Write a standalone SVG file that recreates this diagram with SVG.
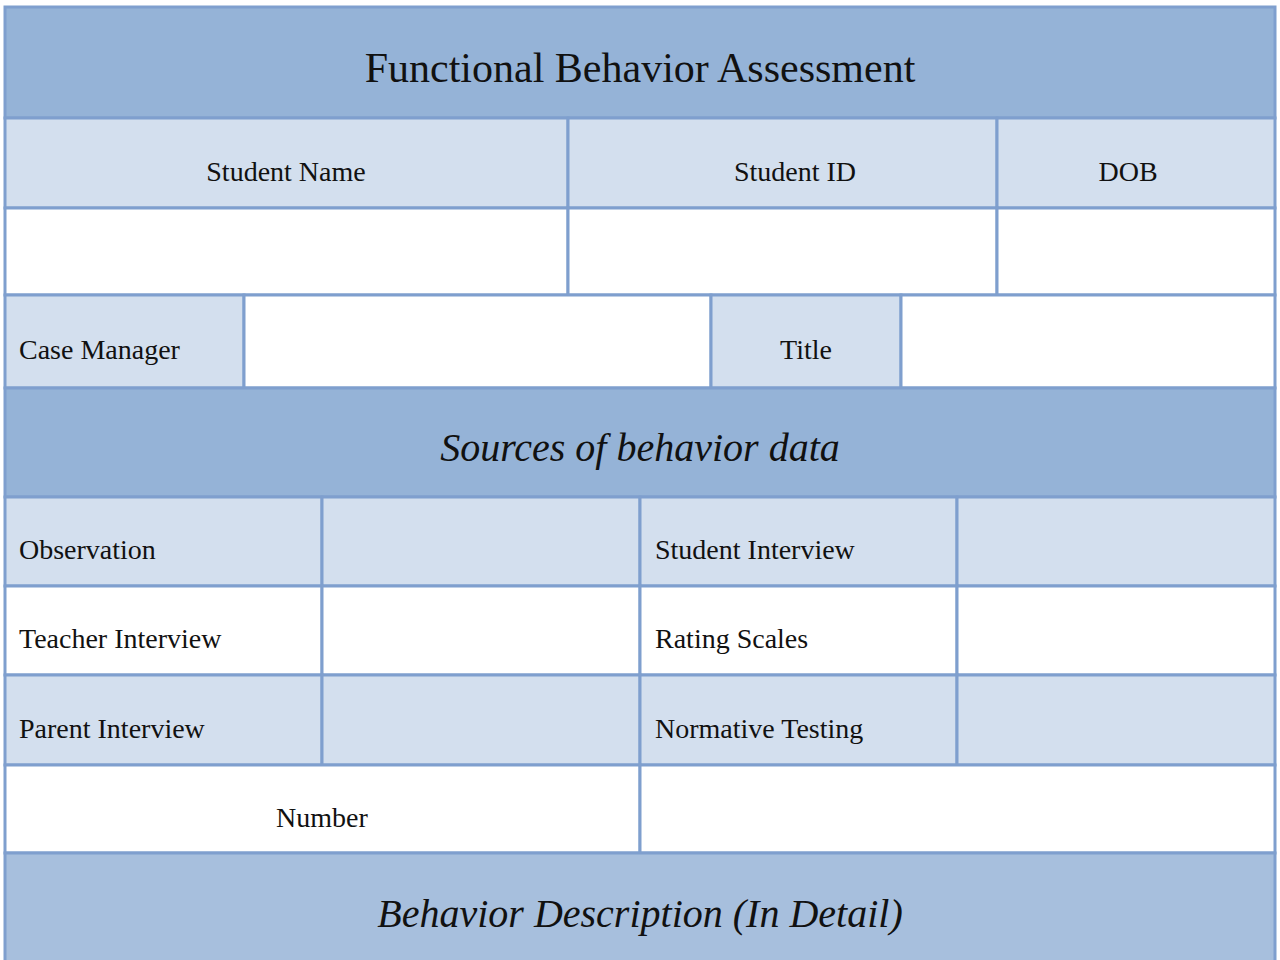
<svg xmlns="http://www.w3.org/2000/svg" width="1280" height="960" viewBox="0 0 1280 960">
<style>
rect{stroke:#7f9fce;stroke-width:3}
.d{fill:#95b3d7}.l{fill:#d3dfee}.w{fill:#fff}.b{fill:#a7bfdd}
text{font-family:"Liberation Serif",serif;fill:#111;font-size:28px}
.h{font-size:42px}.i{font-style:italic;font-size:40px}
.m{text-anchor:middle}
</style>
<rect width="1280" height="960" fill="#fff" style="stroke:none"/>
<g id="title"><rect class="d" x="5" y="7" width="1270" height="111"/><text class="h m" x="640" y="82">Functional Behavior Assessment</text></g>
<g id="row1">
<rect class="l" x="5" y="118" width="563" height="90"/><text class="m" x="286" y="181">Student Name</text>
<rect class="l" x="568" y="118" width="429" height="90"/><text class="m" x="795" y="181">Student ID</text>
<rect class="l" x="997" y="118" width="278" height="90"/><text class="m" x="1128" y="181">DOB</text>
</g>
<g id="row2">
<rect class="w" x="5" y="208" width="563" height="87"/><rect class="w" x="568" y="208" width="429" height="87"/><rect class="w" x="997" y="208" width="278" height="87"/>
</g>
<g id="row3">
<rect class="l" x="5" y="295" width="239" height="93"/><text x="19" y="359">Case Manager</text>
<rect class="w" x="244" y="295" width="467" height="93"/>
<rect class="l" x="711" y="295" width="190" height="93"/><text class="m" x="806" y="359">Title</text>
<rect class="w" x="901" y="295" width="374" height="93"/>
</g>
<g id="sources"><rect class="d" x="5" y="388" width="1270" height="109"/><text class="i m" x="640" y="461">Sources of behavior data</text></g>
<g id="r4">
<rect class="l" x="5" y="497" width="317" height="89"/><text x="19" y="559">Observation</text>
<rect class="l" x="322" y="497" width="318" height="89"/>
<rect class="l" x="640" y="497" width="317" height="89"/><text x="655" y="559">Student Interview</text>
<rect class="l" x="957" y="497" width="318" height="89"/>
</g>
<g id="r5">
<rect class="w" x="5" y="586" width="317" height="89"/><text x="19" y="648">Teacher Interview</text>
<rect class="w" x="322" y="586" width="318" height="89"/>
<rect class="w" x="640" y="586" width="317" height="89"/><text x="655" y="648">Rating Scales</text>
<rect class="w" x="957" y="586" width="318" height="89"/>
</g>
<g id="r6">
<rect class="l" x="5" y="675" width="317" height="90"/><text x="19" y="738">Parent Interview</text>
<rect class="l" x="322" y="675" width="318" height="90"/>
<rect class="l" x="640" y="675" width="317" height="90"/><text x="655" y="738">Normative Testing</text>
<rect class="l" x="957" y="675" width="318" height="90"/>
</g>
<g id="r7">
<rect class="w" x="5" y="765" width="635" height="88"/><text class="m" x="322" y="827">Number</text>
<rect class="w" x="640" y="765" width="635" height="88"/>
</g>
<g id="desc"><rect class="b" x="5" y="853" width="1270" height="115"/><text class="i m" x="640" y="927">Behavior Description (In Detail)</text></g>
<g id="connectors"/>
</svg>
